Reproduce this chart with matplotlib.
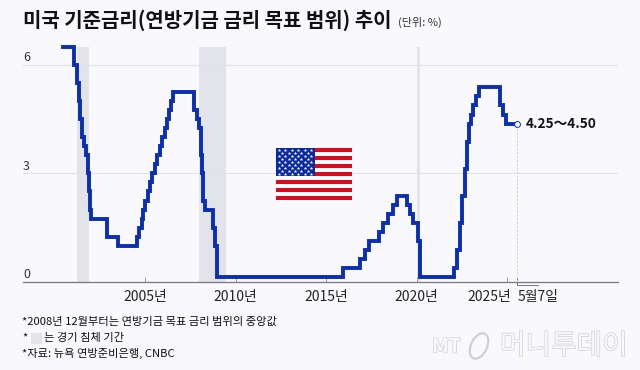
import matplotlib
matplotlib.use("Agg")
from matplotlib import pyplot as plt
from matplotlib.patches import Ellipse
from matplotlib.transforms import ScaledTranslation
import matplotlib.patheffects as pe

plt.rcParams['font.family'] = ['Noto Sans CJK KR', 'DejaVu Sans']

# step starts (year) and rate from there on
years = [2000.43, 2001.06, 2001.21, 2001.32, 2001.41, 2001.48, 2001.61, 2001.74, 2001.83, 2001.89,
         2001.94, 2002.02, 2002.90, 2003.51, 2004.52, 2004.67, 2004.80, 2004.89, 2005.00, 2005.15,
         2005.26, 2005.39, 2005.53, 2005.66, 2005.81, 2005.94, 2006.07, 2006.18, 2006.31, 2006.42,
         2006.51, 2007.69, 2007.84, 2007.98, 2008.08, 2008.13, 2008.20, 2008.31, 2008.76, 2008.87,
         2008.96, 2015.90, 2016.86, 2017.14, 2017.38, 2017.91, 2018.15, 2018.41, 2018.66, 2018.92,
         2019.48, 2019.62, 2019.81, 2020.08, 2020.16, 2022.07, 2022.24, 2022.39, 2022.51, 2022.64,
         2022.77, 2022.86, 2022.97, 2023.12, 2023.27, 2023.45, 2024.59, 2024.78, 2024.92, 2025.55]
rates = [6.5, 6.0, 5.5, 5.0, 4.5, 4.0, 3.75, 3.5, 3.0, 2.5,
         2.0, 1.75, 1.25, 1.0, 1.25, 1.5, 1.75, 2.0, 2.25, 2.5,
         2.75, 3.0, 3.25, 3.5, 3.75, 4.0, 4.25, 4.5, 4.75, 5.0,
         5.25, 4.75, 4.5, 4.25, 3.5, 3.0, 2.25, 2.0, 1.5, 1.0,
         0.125, 0.375, 0.625, 0.875, 1.125, 1.375, 1.625, 1.875, 2.125, 2.375,
         2.125, 1.875, 1.625, 1.125, 0.125, 0.375, 0.875, 1.625, 2.375, 3.125,
         3.875, 4.375, 4.625, 4.875, 5.125, 5.375, 4.875, 4.625, 4.375, 4.375]
recessions = [(2001.21, 2001.87), (2007.98, 2009.44), (2020.0, 2020.17)]
x_ticks = [2005, 2010, 2015, 2020, 2025]
x_labels = ["2005년", "2010년", "2015년", "2020년", "2025년"]
y_ticks = [0, 3, 6]
last_label = "4.25～4.50"
date_label = "5월7일"
title = "미국 기준금리(연방기금 금리 목표 범위) 추이"
unit = "(단위: %)"
notes = ["*2008년 12월부터는 연방기금 목표 금리 범위의 중앙값", "*", "*자료: 뉴욕 연방준비은행, CNBC"]
swatch_note = "는 경기 침체 기간"

BG = "#f9f9fd"
BLUE = "#0a2eb4"
W, H = 640, 370

fig = plt.figure(figsize=(W / 100, H / 100), dpi=100, facecolor=BG)

# overlay in pixel coords for the loose text
page = fig.add_axes([0, 0, 1, 1])
page.set_xlim(0, W)
page.set_ylim(H, 0)
page.axis("off")

ax = fig.add_axes([23 / W, 1 - 282 / H, 595 / W, 235 / H], facecolor="none")
ax.set_xlim(1998.24, 2031.12)
ax.set_ylim(0, 6.49)

for a, b in recessions:
    ax.axvspan(a, b, color="#e3e3ea", lw=0, zorder=1)
for v in y_ticks[1:]:
    ax.axhline(v, color="#e2e2ec", lw=1.0 if v == 6 else 0.8, zorder=2)

ax.step(years, rates, where="post", color=BLUE, lw=2.8, solid_joinstyle="miter", zorder=4, clip_on=False)

# last point
ax.plot([years[-1], years[-1]], [0, rates[-1]], color="#c9c9d6", lw=0.7, ls=(0, (2, 2)), zorder=3)
ax.plot(years[-1], rates[-1], "o", ms=4.2, mfc="white", mec=BLUE, mew=0.7, zorder=5)
ax.annotate(last_label, (years[-1], rates[-1]), xytext=(6, 0), textcoords="offset points",
            va="center", ha="left", fontsize=9.8, fontweight="bold", color="#111111")

for sp in ["top", "left", "right"]:
    ax.spines[sp].set_visible(False)
ax.spines["bottom"].set_color("#77777d")
ax.spines["bottom"].set_linewidth(0.9)

ax.set_xticks(x_ticks)
ax.set_xticklabels(x_labels)
ax.set_yticks([])
ax.tick_params(axis="x", direction="in", length=3.5, width=0.7, color="#9a9aa0",
               labelsize=10, labelcolor="#222222", pad=6)
# 2025 label sits left of its tick to make room for the date
lab = ax.get_xticklabels()[-1]
lab.set_transform(lab.get_transform() + ScaledTranslation(-18 / 100, 0, fig.dpi_scale_trans))

for v in y_ticks:
    ax.annotate(str(v), (0, v), xycoords=ax.get_yaxis_transform(), xytext=(0, 0.5),
                textcoords="offset points", va="bottom", ha="left", fontsize=9, color="#333333")

# date bracket under the last point
page.plot([517.3, 517.3, 538], [277, 285, 285], color="#77777d", lw=0.7)
page.text(518, 297, date_label, fontsize=10, color="#222222", va="center", ha="left")

page.text(23, 20, title, fontsize=14.4, fontweight="bold", color="#111111", va="center", ha="left")
page.text(398, 22.5, unit, fontsize=8, color="#333333", va="center", ha="left")

for y, n in zip([322, 338, 353.5], notes):
    page.text(22.5, y, n, fontsize=8.1, color="#111111", va="center", ha="left")
page.text(44, 338, swatch_note, fontsize=8.1, color="#111111", va="center", ha="left")
page.fill_between([30.6, 42], 333, 344, color="#e3e3ea", lw=0)

# watermark
mark = [pe.withStroke(linewidth=1.0, foreground="#cfcfd6")]
page.text(432, 347, "MT", fontsize=14, style="italic", fontweight="bold", color=BG, va="center", ha="left", path_effects=mark)
page.add_patch(Ellipse((479, 346), 16, 27, angle=25, fill=False, ec="#cfcfd6", lw=1.6))
page.text(500, 346, "머니투데이", fontsize=20, color=BG, va="center", ha="left", path_effects=mark)

# flag
flag = fig.add_axes([275.5 / W, 1 - 200 / H, 76.5 / W, 52 / H])
flag.set_xlim(0, 76.5)
flag.set_ylim(13, 0)
flag.axis("off")
for i in range(0, 13, 2):
    flag.axhspan(i, i + 1, color="#dc0a1e", lw=0)
flag.axhspan(0, 7, xmin=0, xmax=39 / 76.5, color="#0a2a9e", lw=0)
sx, sy = [], []
for r in range(9):
    for c in range(6 if r % 2 == 0 else 5):
        sx.append(3.5 + c * 6.4 + (0 if r % 2 == 0 else 3.2))
        sy.append(0.45 + r * 0.76)
flag.scatter(sx, sy, marker="*", s=7, color="white", lw=0)

fig.savefig("out.png", dpi=100, facecolor=BG)
